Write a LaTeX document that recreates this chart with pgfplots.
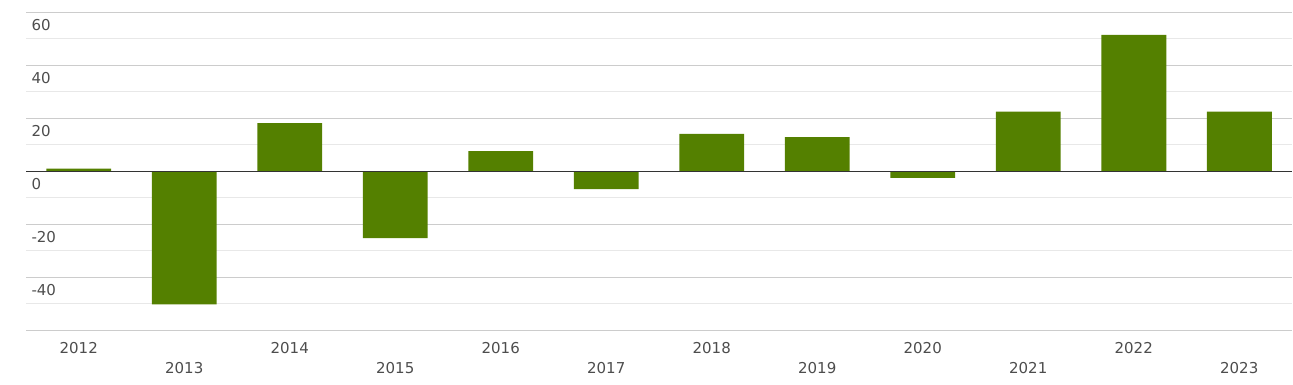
\documentclass[border=0pt]{standalone}
\usepackage{pgfplots}
\pgfplotsset{compat=1.18}
\usepackage{fontspec}
\setmainfont{DejaVu Sans}
\definecolor{bargreen}{RGB}{84,128,0}
\definecolor{majgrid}{RGB}{204,204,204}
\definecolor{mingrid}{RGB}{232,232,232}
\definecolor{lbl}{RGB}{77,77,77}
\begin{document}
\begin{tikzpicture}
\useasboundingbox (0,0) rectangle (1293pt,384pt);
\begin{axis}[
  at={(26pt,54pt)}, anchor=south west,
  scale only axis, width=1266pt, height=318pt,
  xmin=-0.5, xmax=11.5, ymin=-60, ymax=60,
  axis line style={draw=none},
  font=\fontsize{15}{18}\selectfont,
  /pgf/number format/assume math mode=true,
  ytick={-40,-20,0,20,40,60},
  minor ytick={-50,-30,-10,10,30,50},
  ymajorgrids, yminorgrids,
  major grid style={majgrid, line width=1pt},
  minor grid style={mingrid, line width=1pt},
  major tick length=0pt, minor tick length=0pt,
  tick style={draw=none},
  yticklabel style={anchor=north west, text=lbl, yshift=-4pt, xshift=2pt},
  xtick={0,2,4,6,8,10},
  xticklabels={2012,2014,2016,2018,2020,2022},
  xticklabel style={text=lbl, anchor=north, yshift=-9pt},
  extra x ticks={1,3,5,7,9,11},
  extra x tick labels={2013,2015,2017,2019,2021,2023},
  extra x tick style={xticklabel style={yshift=-20pt}},
  bar width=0.616,
]
\addplot[ybar, fill=bargreen, draw=none] coordinates {
 (0,0.9) (1,-50.3) (2,18.1) (3,-25.3) (4,7.5) (5,-6.8)
 (6,14.0) (7,12.8) (8,-2.6) (9,22.4) (10,51.4) (11,22.4)};
\draw[majgrid, line width=1pt] (axis cs:-0.5,-60) -- (axis cs:11.5,-60);
\draw[majgrid, line width=1pt] (axis cs:-0.5,60) -- (axis cs:11.5,60);
\draw[black!80, line width=1pt] (axis cs:-0.5,0) -- (axis cs:11.5,0);
\end{axis}
\end{tikzpicture}
\end{document}
